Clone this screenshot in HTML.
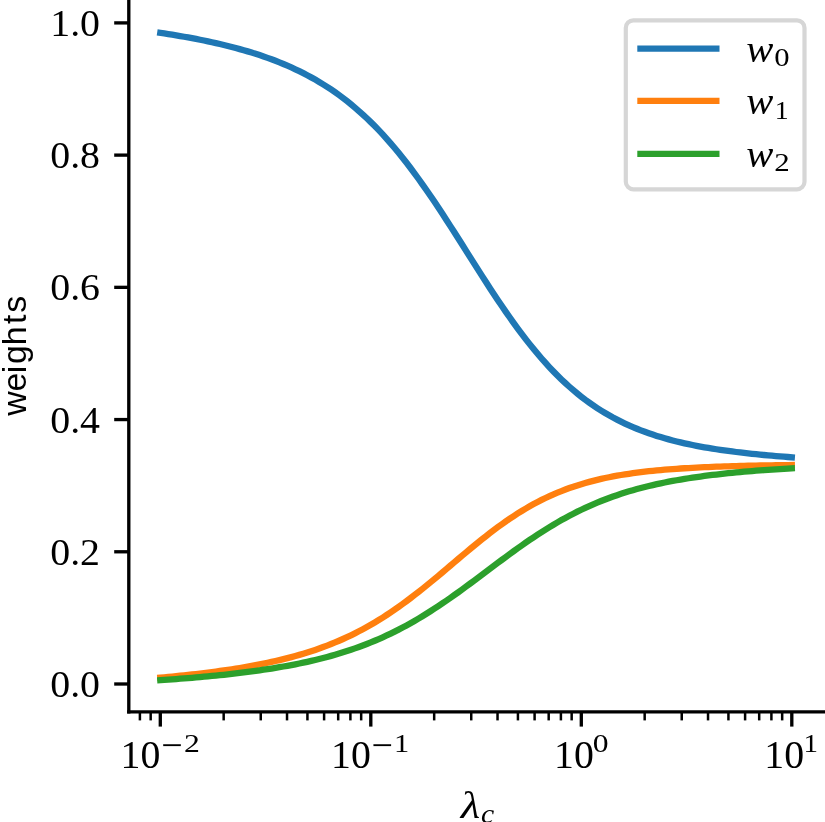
<!DOCTYPE html>
<html><head><meta charset="utf-8"><title>weights vs lambda_c</title>
<style>
html,body{margin:0;padding:0;background:#fff;overflow:hidden;}
svg{display:block;}
text{font-family:"Liberation Serif",serif;fill:#000;}
.tl{font-size:38.5px;}
.sans{font-family:"Liberation Sans",sans-serif;}
</style></head>
<body>
<svg width="825" height="822" viewBox="0 0 825 822">
<rect x="0" y="0" width="825" height="822" fill="#ffffff"/>
<polyline points="160.30,32.89 164.27,33.48 168.24,34.09 172.22,34.72 176.19,35.37 180.16,36.04 184.13,36.73 188.10,37.44 192.07,38.18 196.05,38.94 200.02,39.72 203.99,40.53 207.96,41.36 211.93,42.22 215.90,43.11 219.88,44.03 223.85,44.98 227.82,45.95 231.79,46.97 235.76,48.01 239.73,49.10 243.71,50.22 247.68,51.38 251.65,52.58 255.62,53.83 259.59,55.12 263.56,56.47 267.54,57.86 271.51,59.31 275.48,60.81 279.45,62.37 283.42,64.00 287.39,65.69 291.37,67.44 295.34,69.27 299.31,71.17 303.28,73.15 307.25,75.21 311.22,77.36 315.20,79.59 319.17,81.92 323.14,84.34 327.11,86.86 331.08,89.48 335.05,92.21 339.03,95.05 343.00,98.00 346.97,101.07 350.94,104.26 354.91,107.57 358.88,111.01 362.86,114.58 366.83,118.28 370.80,122.11 374.77,126.08 378.74,130.18 382.72,134.43 386.69,138.81 390.66,143.33 394.63,147.99 398.60,152.79 402.57,157.72 406.55,162.78 410.52,167.98 414.49,173.30 418.46,178.74 422.43,184.30 426.40,189.96 430.38,195.73 434.35,201.60 438.32,207.55 442.29,213.58 446.26,219.68 450.23,225.84 454.21,232.05 458.18,238.29 462.15,244.56 466.12,250.84 470.09,257.13 474.06,263.40 478.04,269.65 482.01,275.87 485.98,282.05 489.95,288.17 493.92,294.22 497.89,300.19 501.87,306.08 505.84,311.87 509.81,317.56 513.78,323.13 517.75,328.58 521.72,333.91 525.70,339.10 529.67,344.16 533.64,349.08 537.61,353.85 541.58,358.48 545.55,362.96 549.53,367.29 553.50,371.48 557.47,375.51 561.44,379.40 565.41,383.14 569.38,386.73 573.36,390.18 577.33,393.49 581.30,396.67 585.27,399.71 589.24,402.61 593.22,405.40 597.19,408.06 601.16,410.60 605.13,413.02 609.10,415.33 613.07,417.54 617.05,419.64 621.02,421.65 624.99,423.56 628.96,425.38 632.93,427.11 636.90,428.76 640.88,430.33 644.85,431.82 648.82,433.24 652.79,434.59 656.76,435.88 660.73,437.10 664.71,438.27 668.68,439.38 672.65,440.44 676.62,441.44 680.59,442.40 684.56,443.31 688.54,444.18 692.51,445.01 696.48,445.80 700.45,446.56 704.42,447.28 708.39,447.96 712.37,448.62 716.34,449.25 720.31,449.85 724.28,450.42 728.25,450.97 732.22,451.49 736.20,452.00 740.17,452.48 744.14,452.94 748.11,453.39 752.08,453.81 756.05,454.23 760.03,454.62 764.00,455.00 767.97,455.37 771.94,455.72 775.91,456.06 779.88,456.39 783.86,456.70 787.83,457.01 791.80,457.30" fill="none" stroke="#1f77b4" stroke-width="6.3" stroke-linecap="square" stroke-linejoin="round"/>
<polyline points="160.30,677.62 164.27,677.27 168.24,676.90 172.22,676.53 176.19,676.14 180.16,675.74 184.13,675.33 188.10,674.90 192.07,674.46 196.05,674.01 200.02,673.55 203.99,673.07 207.96,672.58 211.93,672.07 215.90,671.54 219.88,670.99 223.85,670.43 227.82,669.85 231.79,669.25 235.76,668.63 239.73,667.99 243.71,667.33 247.68,666.64 251.65,665.92 255.62,665.18 259.59,664.42 263.56,663.62 267.54,662.79 271.51,661.93 275.48,661.04 279.45,660.12 283.42,659.15 287.39,658.15 291.37,657.11 295.34,656.02 299.31,654.89 303.28,653.72 307.25,652.49 311.22,651.22 315.20,649.89 319.17,648.52 323.14,647.08 327.11,645.59 331.08,644.03 335.05,642.41 339.03,640.73 343.00,638.99 346.97,637.17 350.94,635.29 354.91,633.33 358.88,631.30 362.86,629.20 366.83,627.02 370.80,624.77 374.77,622.44 378.74,620.04 382.72,617.56 386.69,615.00 390.66,612.37 394.63,609.66 398.60,606.88 402.57,604.03 406.55,601.12 410.52,598.14 414.49,595.09 418.46,592.00 422.43,588.84 426.40,585.64 430.38,582.40 434.35,579.12 438.32,575.81 442.29,572.47 446.26,569.12 450.23,565.76 454.21,562.39 458.18,559.02 462.15,555.67 466.12,552.33 470.09,549.02 474.06,545.74 478.04,542.50 482.01,539.30 485.98,536.16 489.95,533.07 493.92,530.05 497.89,527.09 501.87,524.20 505.84,521.39 509.81,518.66 513.78,516.02 517.75,513.45 521.72,510.98 525.70,508.59 529.67,506.29 533.64,504.08 537.61,501.96 541.58,499.92 545.55,497.98 549.53,496.12 553.50,494.35 557.47,492.66 561.44,491.05 565.41,489.52 569.38,488.07 573.36,486.69 577.33,485.39 581.30,484.15 585.27,482.98 589.24,481.88 593.22,480.83 597.19,479.85 601.16,478.92 605.13,478.04 609.10,477.22 613.07,476.44 617.05,475.71 621.02,475.02 624.99,474.37 628.96,473.77 632.93,473.19 636.90,472.66 640.88,472.15 644.85,471.68 648.82,471.23 652.79,470.81 656.76,470.42 660.73,470.05 664.71,469.70 668.68,469.38 672.65,469.07 676.62,468.78 680.59,468.51 684.56,468.26 688.54,468.02 692.51,467.80 696.48,467.59 700.45,467.39 704.42,467.21 708.39,467.03 712.37,466.87 716.34,466.71 720.31,466.57 724.28,466.43 728.25,466.30 732.22,466.18 736.20,466.06 740.17,465.96 744.14,465.85 748.11,465.76 752.08,465.67 756.05,465.58 760.03,465.50 764.00,465.42 767.97,465.35 771.94,465.28 775.91,465.22 779.88,465.16 783.86,465.10 787.83,465.04 791.80,464.99" fill="none" stroke="#ff7f0e" stroke-width="6.3" stroke-linecap="square" stroke-linejoin="round"/>
<polyline points="160.30,680.12 164.27,679.86 168.24,679.59 172.22,679.31 176.19,679.03 180.16,678.73 184.13,678.42 188.10,678.10 192.07,677.78 196.05,677.44 200.02,677.09 203.99,676.73 207.96,676.36 211.93,675.98 215.90,675.58 219.88,675.18 223.85,674.76 227.82,674.33 231.79,673.88 235.76,673.42 239.73,672.94 243.71,672.45 247.68,671.95 251.65,671.42 255.62,670.88 259.59,670.32 263.56,669.74 267.54,669.14 271.51,668.52 275.48,667.88 279.45,667.21 283.42,666.52 287.39,665.81 291.37,665.06 295.34,664.29 299.31,663.49 303.28,662.66 307.25,661.80 311.22,660.90 315.20,659.97 319.17,659.00 323.14,658.00 327.11,656.95 331.08,655.86 335.05,654.73 339.03,653.56 343.00,652.34 346.97,651.07 350.94,649.76 354.91,648.39 358.88,646.97 362.86,645.50 366.83,643.97 370.80,642.38 374.77,640.74 378.74,639.04 382.72,637.28 386.69,635.46 390.66,633.57 394.63,631.62 398.60,629.61 402.57,627.54 406.55,625.40 410.52,623.20 414.49,620.94 418.46,618.61 422.43,616.23 426.40,613.78 430.38,611.28 434.35,608.72 438.32,606.11 442.29,603.44 446.26,600.73 450.23,597.97 454.21,595.17 458.18,592.33 462.15,589.46 466.12,586.56 470.09,583.63 474.06,580.68 478.04,577.71 482.01,574.73 485.98,571.75 489.95,568.76 493.92,565.78 497.89,562.81 501.87,559.86 505.84,556.92 509.81,554.00 513.78,551.12 517.75,548.26 521.72,545.45 525.70,542.68 529.67,539.95 533.64,537.27 537.61,534.64 541.58,532.07 545.55,529.55 549.53,527.09 553.50,524.70 557.47,522.37 561.44,520.10 565.41,517.90 569.38,515.76 573.36,513.69 577.33,511.68 581.30,509.75 585.27,507.87 589.24,506.07 593.22,504.33 597.19,502.65 601.16,501.03 605.13,499.48 609.10,497.98 613.07,496.55 617.05,495.17 621.02,493.85 624.99,492.58 628.96,491.36 632.93,490.19 636.90,489.08 640.88,488.01 644.85,486.98 648.82,486.00 652.79,485.07 656.76,484.17 660.73,483.31 664.71,482.49 668.68,481.70 672.65,480.95 676.62,480.23 680.59,479.54 684.56,478.88 688.54,478.25 692.51,477.64 696.48,477.06 700.45,476.51 704.42,475.98 708.39,475.47 712.37,474.98 716.34,474.51 720.31,474.06 724.28,473.63 728.25,473.21 732.22,472.82 736.20,472.43 740.17,472.06 744.14,471.71 748.11,471.37 752.08,471.04 756.05,470.73 760.03,470.42 764.00,470.13 767.97,469.84 771.94,469.57 775.91,469.30 779.88,469.05 783.86,468.80 787.83,468.56 791.80,468.33" fill="none" stroke="#2ca02c" stroke-width="6.3" stroke-linecap="square" stroke-linejoin="round"/>
<line x1="128.8" y1="-5" x2="128.8" y2="713.46" stroke="#000" stroke-width="3.33"/>
<line x1="127.14" y1="711.8" x2="830" y2="711.8" stroke="#000" stroke-width="3.33"/>
<line x1="114.2" y1="684.00" x2="128.8" y2="684.00" stroke="#000" stroke-width="3.33"/>
<text x="100.02116363636364" y="697.10" class="tl" text-anchor="end" textLength="49.8" lengthAdjust="spacingAndGlyphs">0.0</text>
<line x1="114.2" y1="551.78" x2="128.8" y2="551.78" stroke="#000" stroke-width="3.33"/>
<text x="100.02116363636364" y="564.88" class="tl" text-anchor="end" textLength="49.8" lengthAdjust="spacingAndGlyphs">0.2</text>
<line x1="114.2" y1="419.56" x2="128.8" y2="419.56" stroke="#000" stroke-width="3.33"/>
<text x="100.02116363636364" y="432.66" class="tl" text-anchor="end" textLength="49.8" lengthAdjust="spacingAndGlyphs">0.4</text>
<line x1="114.2" y1="287.34" x2="128.8" y2="287.34" stroke="#000" stroke-width="3.33"/>
<text x="100.02116363636364" y="300.44" class="tl" text-anchor="end" textLength="49.8" lengthAdjust="spacingAndGlyphs">0.6</text>
<line x1="114.2" y1="155.12" x2="128.8" y2="155.12" stroke="#000" stroke-width="3.33"/>
<text x="100.02116363636364" y="168.22" class="tl" text-anchor="end" textLength="49.8" lengthAdjust="spacingAndGlyphs">0.8</text>
<line x1="114.2" y1="22.90" x2="128.8" y2="22.90" stroke="#000" stroke-width="3.33"/>
<text x="100.02116363636364" y="36.00" class="tl" text-anchor="end" textLength="49.8" lengthAdjust="spacingAndGlyphs">1.0</text>
<line x1="160.30" y1="711.8" x2="160.30" y2="726.6" stroke="#000" stroke-width="3.33"/>
<line x1="370.80" y1="711.8" x2="370.80" y2="726.6" stroke="#000" stroke-width="3.33"/>
<line x1="581.30" y1="711.8" x2="581.30" y2="726.6" stroke="#000" stroke-width="3.33"/>
<line x1="791.80" y1="711.8" x2="791.80" y2="726.6" stroke="#000" stroke-width="3.33"/>
<line x1="139.90" y1="711.8" x2="139.90" y2="720.4" stroke="#000" stroke-width="2.5"/>
<line x1="150.67" y1="711.8" x2="150.67" y2="720.4" stroke="#000" stroke-width="2.5"/>
<line x1="223.67" y1="711.8" x2="223.67" y2="720.4" stroke="#000" stroke-width="2.5"/>
<line x1="260.73" y1="711.8" x2="260.73" y2="720.4" stroke="#000" stroke-width="2.5"/>
<line x1="287.03" y1="711.8" x2="287.03" y2="720.4" stroke="#000" stroke-width="2.5"/>
<line x1="307.43" y1="711.8" x2="307.43" y2="720.4" stroke="#000" stroke-width="2.5"/>
<line x1="324.10" y1="711.8" x2="324.10" y2="720.4" stroke="#000" stroke-width="2.5"/>
<line x1="338.19" y1="711.8" x2="338.19" y2="720.4" stroke="#000" stroke-width="2.5"/>
<line x1="350.40" y1="711.8" x2="350.40" y2="720.4" stroke="#000" stroke-width="2.5"/>
<line x1="361.17" y1="711.8" x2="361.17" y2="720.4" stroke="#000" stroke-width="2.5"/>
<line x1="434.17" y1="711.8" x2="434.17" y2="720.4" stroke="#000" stroke-width="2.5"/>
<line x1="471.23" y1="711.8" x2="471.23" y2="720.4" stroke="#000" stroke-width="2.5"/>
<line x1="497.53" y1="711.8" x2="497.53" y2="720.4" stroke="#000" stroke-width="2.5"/>
<line x1="517.93" y1="711.8" x2="517.93" y2="720.4" stroke="#000" stroke-width="2.5"/>
<line x1="534.60" y1="711.8" x2="534.60" y2="720.4" stroke="#000" stroke-width="2.5"/>
<line x1="548.69" y1="711.8" x2="548.69" y2="720.4" stroke="#000" stroke-width="2.5"/>
<line x1="560.90" y1="711.8" x2="560.90" y2="720.4" stroke="#000" stroke-width="2.5"/>
<line x1="571.67" y1="711.8" x2="571.67" y2="720.4" stroke="#000" stroke-width="2.5"/>
<line x1="644.67" y1="711.8" x2="644.67" y2="720.4" stroke="#000" stroke-width="2.5"/>
<line x1="681.73" y1="711.8" x2="681.73" y2="720.4" stroke="#000" stroke-width="2.5"/>
<line x1="708.03" y1="711.8" x2="708.03" y2="720.4" stroke="#000" stroke-width="2.5"/>
<line x1="728.43" y1="711.8" x2="728.43" y2="720.4" stroke="#000" stroke-width="2.5"/>
<line x1="745.10" y1="711.8" x2="745.10" y2="720.4" stroke="#000" stroke-width="2.5"/>
<line x1="759.19" y1="711.8" x2="759.19" y2="720.4" stroke="#000" stroke-width="2.5"/>
<line x1="771.40" y1="711.8" x2="771.40" y2="720.4" stroke="#000" stroke-width="2.5"/>
<line x1="782.17" y1="711.8" x2="782.17" y2="720.4" stroke="#000" stroke-width="2.5"/>
<text x="120.60" y="767.8" font-size="39.0" textLength="39.8" lengthAdjust="spacingAndGlyphs">10</text>
<text x="161.31" y="757.8" font-size="38.0">−</text>
<text x="183.90" y="751.7" font-size="24.7" textLength="15.85" lengthAdjust="spacingAndGlyphs">2</text>
<text x="331.00" y="767.8" font-size="39.0" textLength="39.8" lengthAdjust="spacingAndGlyphs">10</text>
<text x="371.41" y="757.8" font-size="38.0">−</text>
<text x="393.90" y="751.7" font-size="24.7" textLength="15.19" lengthAdjust="spacingAndGlyphs">1</text>
<text x="554.10" y="767.8" font-size="39.0" textLength="39.8" lengthAdjust="spacingAndGlyphs">10</text>
<text x="592.70" y="751.7" font-size="24.7" textLength="15.81" lengthAdjust="spacingAndGlyphs">0</text>
<text x="764.30" y="767.8" font-size="39.0" textLength="39.8" lengthAdjust="spacingAndGlyphs">10</text>
<text x="803.56" y="751.7" font-size="24.7" textLength="14.48" lengthAdjust="spacingAndGlyphs">1</text>
<text x="460.7" y="818" font-size="38.5" font-style="italic" textLength="19.4" lengthAdjust="spacingAndGlyphs">λ</text>
<text x="481.1" y="822.6" font-size="26.5" font-style="italic" textLength="13.2" lengthAdjust="spacingAndGlyphs">c</text>
<text transform="translate(26.3,0) rotate(-90)" x="-415.71 -391.59 -373.16 -363.95 -345.15 -323.89 -312.78" y="0" font-size="33.9" class="sans">weights</text>
<rect x="625.8" y="20.4" width="178.7" height="168.9" rx="7.5" ry="7.5" fill="#ffffff" fill-opacity="0.8" stroke="#d6d6d6" stroke-width="4.2"/>
<line x1="640.45" y1="48.55" x2="716.35" y2="48.55" stroke="#1f77b4" stroke-width="6.3" stroke-linecap="square"/>
<text x="746.33" y="62.0" font-size="37.5" font-style="italic" textLength="27.06" lengthAdjust="spacingAndGlyphs">w</text>
<text x="774.23" y="66.4" font-size="26.1" textLength="15.33" lengthAdjust="spacingAndGlyphs">0</text>
<line x1="640.45" y1="100.9" x2="716.35" y2="100.9" stroke="#ff7f0e" stroke-width="6.3" stroke-linecap="square"/>
<text x="746.33" y="114.4" font-size="37.5" font-style="italic" textLength="27.06" lengthAdjust="spacingAndGlyphs">w</text>
<text x="774.66" y="118.8" font-size="26.1" textLength="13.91" lengthAdjust="spacingAndGlyphs">1</text>
<line x1="640.45" y1="153.8" x2="716.35" y2="153.8" stroke="#2ca02c" stroke-width="6.3" stroke-linecap="square"/>
<text x="746.33" y="166.8" font-size="37.5" font-style="italic" textLength="27.06" lengthAdjust="spacingAndGlyphs">w</text>
<text x="774.34" y="171.4" font-size="26.1" textLength="15.47" lengthAdjust="spacingAndGlyphs">2</text>
</svg>
</body></html>
